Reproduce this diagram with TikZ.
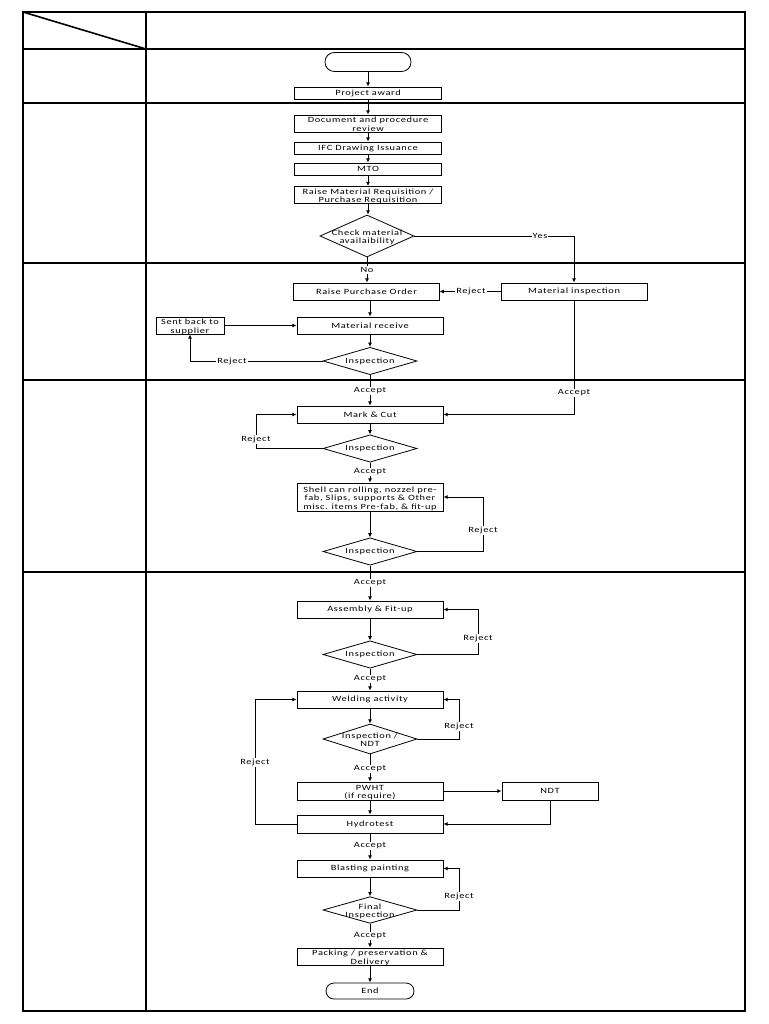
\documentclass[tikz,border=0pt]{standalone}
\usepackage{fontspec}
\newfontfamily\lblfont[FakeStretch=1.3,LetterSpace=8]{Carlito}
\usetikzlibrary{shapes.geometric,arrows.meta}
\newcommand\mlines[1]{\raisebox{-1.5pt}[\height][\depth]{\begin{tabular}{@{}c@{}}#1\end{tabular}}}
\begin{document}
\begin{tikzpicture}[x=0.75pt,y=-0.75pt,
  txt/.style={font=\lblfont\fontsize{6}{6.3}\selectfont},
  box/.style={txt,draw,line width=0.6pt,minimum width=109.5pt,minimum height=12.75pt,inner sep=0pt},
  term/.style={txt,draw,line width=0.6pt,rounded corners=6.5pt,minimum width=65pt,minimum height=13.5pt,inner sep=0pt},
  dia/.style={txt,diamond,draw,line width=0.6pt,minimum width=70.5pt,minimum height=20.5pt,inner sep=0pt},
  lbl/.style={txt,fill=white,inner sep=0.8pt},
  arr/.style={line width=0.7pt,-{Latex[length=3.2pt,width=3pt]}},
  frame/.style={line width=1.2pt},
  thick frame/.style={line width=2.2pt}]
\useasboundingbox (0,0) rectangle (768,1024);
% ---- table frame ----
\draw[frame] (23,12) -- (745,12);
\draw[frame] (23,49) -- (745,49);
\draw[frame] (23,103) -- (745,103);
\draw[frame] (23,263) -- (745,263);
\draw[frame] (23,380) -- (745,380);
\draw[frame] (23,572) -- (745,572);
\draw[frame] (23,1011) -- (745,1011);
\draw[frame] (146,12) -- (146,1011);
\draw[thick frame] (23,11) -- (23,1012);
\draw[thick frame] (745,11) -- (745,1012);
\draw[frame] (23,12) -- (146,49);
% ---- nodes ----
\node[term,minimum height=14.25pt,minimum width=64.5pt,rounded corners=7pt] (start) at (368,62) {};
\node[box,minimum height=9pt,minimum width=110pt] (pa) at (368,93) {Project award};
\node[box,minimum width=110pt] (doc) at (368,123.5) {\mlines{Document and procedure\\review}};
\node[box,minimum height=9pt,minimum width=110pt] (ifc) at (368,148) {IFC Drawing Issuance};
\node[box,minimum height=9pt,minimum width=110pt] (mto) at (368,169) {MTO};
\node[box,minimum height=12.75pt,minimum width=110pt] (rmr) at (368,195) {\mlines{Raise Material Requisition /\\Purchase Requisition}};
\node[dia,minimum width=70.5pt,minimum height=31.5pt] (check) at (367,236) {\makebox[0pt]{\mlines{Check material\\availaibility}}};
\node[box,minimum width=109pt] (rpo) at (366.5,291.5) {Raise Purchase Order};
\node[box] (mi) at (574,291.5) {Material inspection};
\node[box,minimum width=51pt] (sb) at (190,325.5) {\mlines{Sent back to\\supplier}};
\node[box] (mr) at (370,325.5) {Material receive};
\node[dia] (i1) at (370,361) {\makebox[0pt]{Inspection}};
\node[box] (mc) at (370,414.5) {Mark \& Cut};
\node[dia] (i2) at (370,448.5) {\makebox[0pt]{Inspection}};
\node[box,minimum height=21pt] (shell) at (370,497) {\mlines{Shell can rolling, nozzel pre-\\fab, Slips, supports \& Other\\misc. items Pre-fab, \& fit-up}};
\node[dia] (i3) at (370,551.5) {\makebox[0pt]{Inspection}};
\node[box] (asm) at (370,609.5) {Assembly \& Fit-up};
\node[dia] (i4) at (370,654.5) {\makebox[0pt]{Inspection}};
\node[box] (weld) at (370,699.5) {Welding activity};
\node[dia,minimum height=22.5pt] (i5) at (370,739) {\makebox[0pt]{\mlines{Inspection /\\NDT}}};
\node[box,minimum height=13.5pt] (pwht) at (370,791) {\mlines{PWHT\\(if require)}};
\node[box,minimum height=13.5pt,minimum width=72pt] (ndt) at (550,791) {NDT};
\node[box,minimum height=13.5pt] (hydro) at (370,824) {Hydrotest};
\node[box] (blast) at (370,868.5) {Blasting painting};
\node[dia,minimum height=20pt] (i6) at (370,910) {\makebox[0pt]{\mlines{Final\\Inspection}}};
\node[box] (pack) at (370,956.5) {\mlines{Packing / preservation \&\\Delivery}};
\node[term,minimum width=66pt,minimum height=12pt,rounded corners=6pt] (end) at (370,991) {End};
% ---- connectors ----
\draw[arr] (start.south) -- (start.south |- pa.north);
\draw[arr] (pa.south) -- (pa.south |- doc.north);
\draw[arr] (doc.south) -- (doc.south |- ifc.north);
\draw[arr] (ifc.south) -- (ifc.south |- mto.north);
\draw[arr] (mto.south) -- (mto.south |- rmr.north);
\draw[arr] (rmr.south) -- (rmr.south |- check.north);
\draw[arr] (check.east) -- (check.east -| mi.north) -- (mi.north);
\node[lbl] (yes) at (540,236) {Yes};
\draw[arr] (check.south) -- (check.south |- rpo.north);
\node[lbl] (no) at (367,270) {No};
\draw[arr] (mi.west) -- (rpo.east);
\node[lbl] (rj1) at (471,291.5) {Reject};
\draw[arr] (rpo.south -| mr.north) -- (mr.north);
\draw[arr] (sb.east) -- (sb.east -| mr.west);
\draw[arr] (mr.south) -- (mr.south |- i1.north);
\draw[arr] (i1.west) -- (i1.west -| sb.south) -- (sb.south);
\node[lbl] (rj2) at (232,361) {Reject};
\draw[arr] (i1.south) -- (mc.north);
\node[lbl] (ac1) at (370,391) {Accept};
\draw[arr] (mi.south) -- (mi.south |- mc.east) -- (mc.east);
\node[lbl] (ac2) at (574,393) {Accept};
\draw[arr] (mc.south) -- (i2.north);
\coordinate (r2) at (256,448.5);
\draw[arr] (i2.west) -- (r2) -- (r2 |- mc.west) -- (mc.west);
\node[lbl] (rj3) at (256,439) {Reject};
\draw[arr] (i2.south) -- (shell.north);
\node[lbl] (ac3) at (370,472) {Accept};
\draw[arr] (shell.south) -- (i3.north);
\coordinate (r3) at (483,551.5);
\draw[arr] (i3.east) -- (r3) -- (r3 |- shell.east) -- (shell.east);
\node[lbl] (rj4) at (483,530) {Reject};
\draw[arr] (i3.south) -- (asm.north);
\node[lbl] (ac4) at (370,583) {Accept};
\draw[arr] (asm.south) -- (i4.north);
\coordinate (r4) at (478,654.5);
\draw[arr] (i4.east) -- (r4) -- (r4 |- asm.east) -- (asm.east);
\node[lbl] (rj5) at (478,638) {Reject};
\draw[arr] (i4.south) -- (weld.north);
\node[lbl] (ac5) at (370,679) {Accept};
\draw[arr] (weld.south) -- (i5.north);
\coordinate (r5) at (459,739);
\draw[arr] (i5.east) -- (r5) -- (r5 |- weld.east) -- (weld.east);
\node[lbl] (rj6) at (459,726) {Reject};
\draw[arr] (i5.south) -- (pwht.north);
\node[lbl] (ac6) at (370,769) {Accept};
\draw[arr] (pwht.south) -- (hydro.north);
\draw[arr] (pwht.east) -- (ndt.west);
\draw[arr] (ndt.south) -- (ndt.south |- hydro.east) -- (hydro.east);
\coordinate (r6) at (255,824);
\draw[arr] (hydro.west) -- (r6) -- (r6 |- weld.west) -- (weld.west);
\node[lbl] (rj7) at (255,762) {Reject};
\draw[arr] (hydro.south) -- (blast.north);
\node[lbl] (ac7) at (370,846) {Accept};
\draw[arr] (blast.south) -- (i6.north);
\coordinate (r7) at (459,910);
\draw[arr] (i6.east) -- (r7) -- (r7 |- blast.east) -- (blast.east);
\node[lbl] (rj8) at (459,896) {Reject};
\draw[arr] (i6.south) -- (pack.north);
\node[lbl] (ac8) at (370,936) {Accept};
\draw[arr] (pack.south) -- (end.north);
\end{tikzpicture}
\end{document}
